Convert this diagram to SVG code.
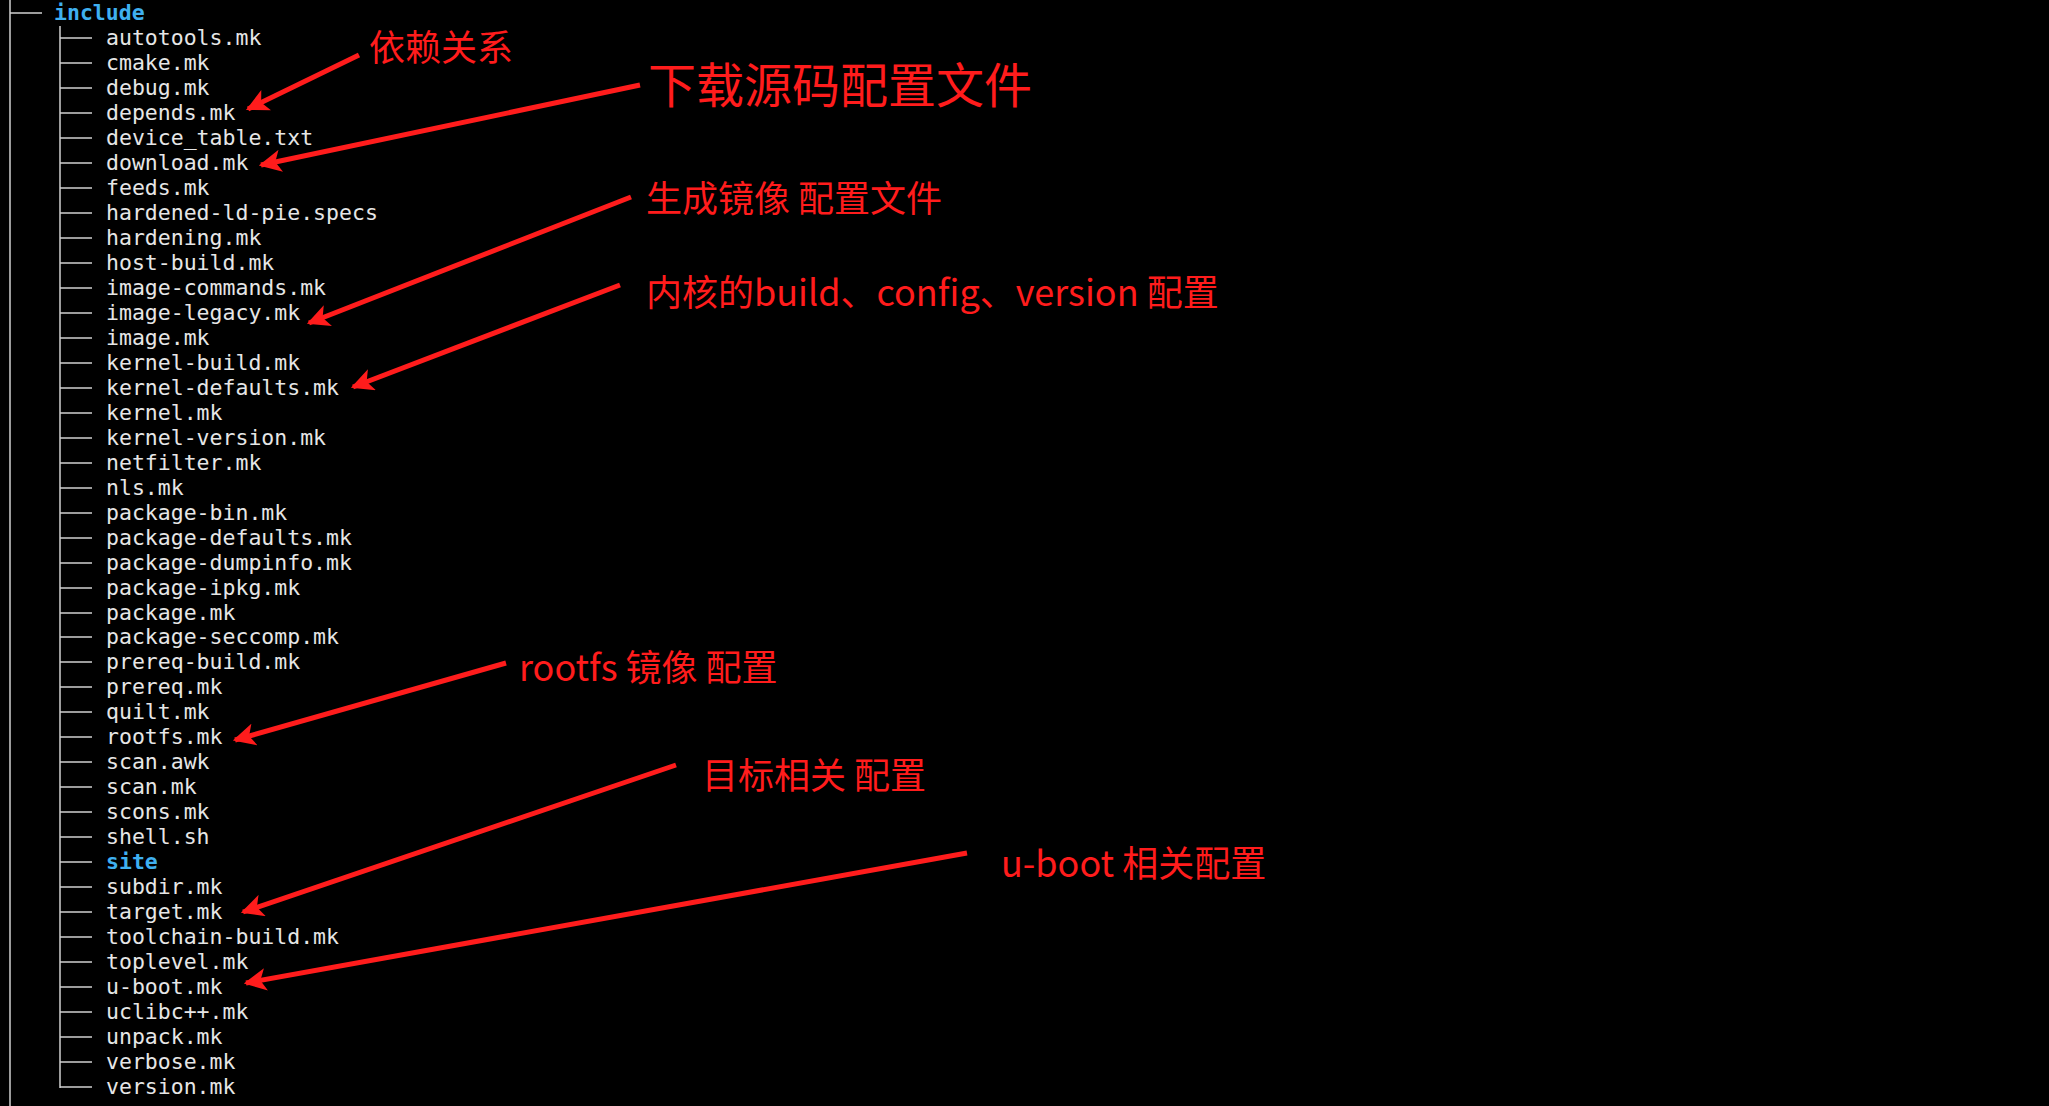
<svg xmlns="http://www.w3.org/2000/svg" width="2049" height="1106" viewBox="0 0 2049 1106">
<defs>
<style>
.t{font-family:"DejaVu Sans Mono","Liberation Mono",monospace;font-size:21.5px;fill:#e6e6e6}
.d{font-family:"DejaVu Sans Mono","Liberation Mono",monospace;font-size:21.5px;fill:#3fb0f0;font-weight:bold}
.tr{stroke:#d0d0d0;stroke-width:1.5;fill:none}
.lb{font-family:"Noto Sans CJK SC","Noto Sans",sans-serif;fill:#ff1c1c}
.ar{stroke:#ff1c1c;stroke-width:5;fill:none;marker-end:url(#ah)}
</style>
<marker id="ah" viewBox="0 0 10 10" refX="9" refY="5" markerWidth="4.5" markerHeight="4.5" orient="auto" markerUnits="strokeWidth">
<path d="M0,0 L10,5 L0,10 L2.5,5 Z" fill="#ff1c1c"/>
</marker>
</defs>
<rect width="2049" height="1106" fill="#000"/>
<g id="tree">
<path class="tr" d="M10,0 V1106 M10,13 H42 M60,26 V1088"/>
<text class="d" x="54" y="20">include</text>
<path class="tr" d="M60,38H92M60,63H92M60,88H92M60,113H92M60,138H92M60,163H92M60,188H92M60,213H92M60,238H92M60,263H92M60,288H92M60,313H92M60,338H92M60,363H92M60,388H92M60,413H92M60,438H92M60,463H92M60,488H92M60,513H92M60,538H92M60,563H92M60,588H92M60,613H92M60,637H92M60,662H92M60,687H92M60,712H92M60,737H92M60,762H92M60,787H92M60,812H92M60,837H92M60,862H92M60,887H92M60,912H92M60,937H92M60,962H92M60,987H92M60,1012H92M60,1037H92M60,1062H92M60,1087H92"/>
<g class="t">
<text x="106" y="45">autotools.mk</text>
<text x="106" y="70">cmake.mk</text>
<text x="106" y="95">debug.mk</text>
<text x="106" y="120">depends.mk</text>
<text x="106" y="145">device_table.txt</text>
<text x="106" y="170">download.mk</text>
<text x="106" y="195">feeds.mk</text>
<text x="106" y="220">hardened-ld-pie.specs</text>
<text x="106" y="245">hardening.mk</text>
<text x="106" y="270">host-build.mk</text>
<text x="106" y="295">image-commands.mk</text>
<text x="106" y="320">image-legacy.mk</text>
<text x="106" y="345">image.mk</text>
<text x="106" y="370">kernel-build.mk</text>
<text x="106" y="395">kernel-defaults.mk</text>
<text x="106" y="420">kernel.mk</text>
<text x="106" y="445">kernel-version.mk</text>
<text x="106" y="470">netfilter.mk</text>
<text x="106" y="495">nls.mk</text>
<text x="106" y="520">package-bin.mk</text>
<text x="106" y="545">package-defaults.mk</text>
<text x="106" y="570">package-dumpinfo.mk</text>
<text x="106" y="595">package-ipkg.mk</text>
<text x="106" y="620">package.mk</text>
<text x="106" y="644">package-seccomp.mk</text>
<text x="106" y="669">prereq-build.mk</text>
<text x="106" y="694">prereq.mk</text>
<text x="106" y="719">quilt.mk</text>
<text x="106" y="744">rootfs.mk</text>
<text x="106" y="769">scan.awk</text>
<text x="106" y="794">scan.mk</text>
<text x="106" y="819">scons.mk</text>
<text x="106" y="844">shell.sh</text>
<text x="106" y="869" class="d">site</text>
<text x="106" y="894">subdir.mk</text>
<text x="106" y="919">target.mk</text>
<text x="106" y="944">toolchain-build.mk</text>
<text x="106" y="969">toplevel.mk</text>
<text x="106" y="994">u-boot.mk</text>
<text x="106" y="1019">uclibc++.mk</text>
<text x="106" y="1044">unpack.mk</text>
<text x="106" y="1069">verbose.mk</text>
<text x="106" y="1094">version.mk</text>
</g>
</g>
<g id="labels">
<text class="lb" x="369" y="61" font-size="36">依赖关系</text>
<text class="lb" x="648" y="103" font-size="48">下载源码配置文件</text>
<text class="lb" x="646" y="212" font-size="36">生成镜像 配置文件</text>
<text class="lb" x="646" y="306" font-size="36">内核的build、config、version 配置</text>
<text class="lb" x="519" y="681" font-size="36">rootfs 镜像 配置</text>
<text class="lb" x="702" y="789" font-size="36">目标相关 配置</text>
<text class="lb" x="1001" y="877" font-size="36">u-boot 相关配置</text>
</g>
<g id="connectors">
<line class="ar" x1="359" y1="55" x2="248" y2="109"/>
<line class="ar" x1="640" y1="85" x2="261" y2="165"/>
<line class="ar" x1="631" y1="197" x2="309" y2="323"/>
<line class="ar" x1="620" y1="285" x2="353" y2="387"/>
<line class="ar" x1="506" y1="663" x2="235" y2="740"/>
<line class="ar" x1="676" y1="765" x2="243" y2="912"/>
<line class="ar" x1="967" y1="853" x2="246" y2="983"/>
</g>
</svg>
